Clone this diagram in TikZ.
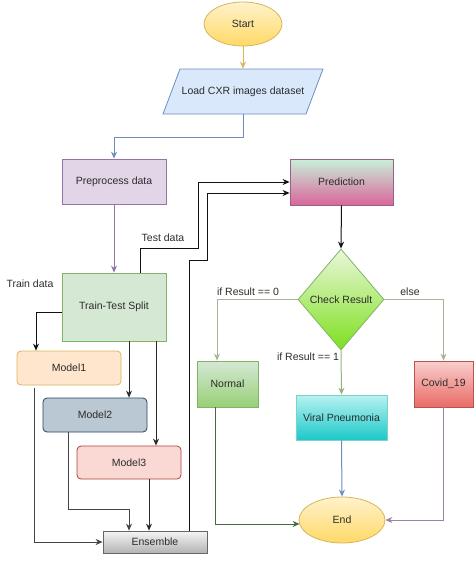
\documentclass[tikz,border=0pt]{standalone}
\usepackage{fontspec}
\setmainfont{Liberation Sans}
\usetikzlibrary{shapes.geometric,arrows.meta,calc}
\definecolor{txt}{HTML}{2B2B2B}
\definecolor{yelB}{HTML}{D6B656}
\definecolor{yelT}{HTML}{FFF2CC}
\definecolor{yelD}{HTML}{FFD966}
\definecolor{bluF}{HTML}{DAE8FC}
\definecolor{bluB}{HTML}{6C8EBF}
\definecolor{purF}{HTML}{E1D5E7}
\definecolor{purB}{HTML}{9673A6}
\definecolor{grnF}{HTML}{D5E8D4}
\definecolor{grnB}{HTML}{82B366}
\definecolor{grnD}{HTML}{97D077}
\definecolor{orgF}{HTML}{FFE6CC}
\definecolor{orgB}{HTML}{D6B656}
\definecolor{slaF}{HTML}{BAC8D3}
\definecolor{slaB}{HTML}{23445D}
\definecolor{rosF}{HTML}{FAD9D5}
\definecolor{rosB}{HTML}{AE4132}
\definecolor{gryT}{HTML}{F5F5F5}
\definecolor{gryD}{HTML}{B3B3B3}
\definecolor{gryB}{HTML}{666666}
\definecolor{preB}{HTML}{996185}
\definecolor{preT}{HTML}{C8F0DA}
\definecolor{preD}{HTML}{D9669A}
\definecolor{chkT}{HTML}{EAF7DC}
\definecolor{chkD}{HTML}{7EE01E}
\definecolor{cyaB}{HTML}{7FD0C8}
\definecolor{cyaT}{HTML}{B8F2F2}
\definecolor{cyaD}{HTML}{1CC8C8}
\definecolor{redB}{HTML}{B85450}
\definecolor{redT}{HTML}{F8CECC}
\definecolor{redD}{HTML}{EA6B66}
\definecolor{ink}{HTML}{111111}
\definecolor{ink2}{HTML}{2A2A2A}
\definecolor{ink3}{HTML}{444444}
\definecolor{sage}{HTML}{A8B39A}
\definecolor{sage2}{HTML}{93B383}
\definecolor{dgrn}{HTML}{3F6B3F}
\definecolor{lav}{HTML}{9A83A6}
\tikzset{
  box/.style={draw, inner sep=0pt, text=txt, font=\fontsize{10.5}{12}\selectfont, line width=0.8pt},
  lbl/.style={inner sep=1pt, text=txt, font=\fontsize{10.5}{12}\selectfont},
  arr/.style={line width=1pt, -{Stealth[length=7pt,width=6pt]}},
}
\begin{document}
\begin{tikzpicture}[x=1pt,y=-1pt]
\useasboundingbox (0,0) rectangle (474,571);
% nodes
\node[box, ellipse, minimum width=78pt, minimum height=44pt, draw=yelB, top color=yelT, bottom color=yelD] (start) at (243,24) {Start};
\fill[bluF] (180,69) -- (323,69) -- (306,114) -- (163,114) -- cycle;
\draw[bluB, line width=0.8pt] (180,69) -- (323,69) -- (306,114) -- (163,114) -- cycle;
\node[box, draw=none, minimum width=143pt, minimum height=45pt] (load) at (243,91.5) {Load CXR images dataset};
\node[box, minimum width=104pt, minimum height=45pt, draw=purB, fill=purF] (pre) at (114,181.5) {Preprocess data};
\node[box, minimum width=104pt, minimum height=68pt, draw=grnB, fill=grnF] (tts) at (114,307) {Train-Test Split};
\node[box, rounded corners=4pt, minimum width=104pt, minimum height=34pt, draw=orgB, fill=orgF] (m1) at (69,368) {Model1};
\node[box, rounded corners=4pt, minimum width=104pt, minimum height=34pt, draw=slaB, fill=slaF] (m2) at (95,415) {Model2};
\node[box, rounded corners=4pt, minimum width=104pt, minimum height=33pt, draw=rosB, fill=rosF] (m3) at (129,462.5) {Model3};
\node[box, minimum width=104pt, minimum height=22pt, draw=gryB, top color=gryT, bottom color=gryD] (ens) at (155,542) {Ensemble};
\node[box, minimum width=103pt, minimum height=46pt, draw=preB, top color=preT, bottom color=preD] (pred) at (341.5,182) {Prediction};
\node[box, diamond, minimum width=86pt, minimum height=101pt, draw=grnB, top color=chkT, bottom color=chkD] (check) at (341,299.5) {Check Result};
\node[box, minimum width=61pt, minimum height=46pt, draw=grnB, top color=grnF, bottom color=grnD] (normal) at (227.5,384) {Normal};
\node[box, minimum width=91pt, minimum height=45pt, draw=cyaB, top color=cyaT, bottom color=cyaD] (viral) at (341.5,417.5) {Viral Pneumonia};
\node[box, minimum width=59pt, minimum height=46pt, draw=redB, top color=redT, bottom color=redD] (covid) at (443.5,384) {Covid\_19};
\node[box, ellipse, minimum width=86pt, minimum height=46pt, draw=yelB, top color=yelT, bottom color=yelD] (end) at (342,520) {End};
% labels
\node[lbl] (ltrain) at (30,284) {Train data};
\node[lbl] (ltest) at (163,238) {Test data};
\node[lbl] (lr0) at (248,292) {if Result == 0};
\node[lbl] (lelse) at (410,292) {else};
\node[lbl] (lr1) at (308,357) {if Result == 1};
% connectors
\draw[arr, yelB] (start.south) -- (load.north);
\draw[arr, bluB] (load.south) -- ++(0,23) -| (pre.north);
\draw[arr, purB] (pre.south) -- (tts.north);
\draw[arr, ink] ($(tts.west)+(0,5)$) -| ($(m1.north)+(-33,0)$);
\draw[arr, ink2] ($(tts.south)+(15,0)$) -- ($(m2.north)+(34,0)$);
\draw[arr, ink2] ($(tts.south)+(42,0)$) -- ($(m3.north)+(27,0)$);
\draw[arr, ink] ($(tts.north)+(26,0)$) -- ++(0,-24) -- ++(58,0) |- (pred.west);
\draw[arr, ink] ($(ens.north)+(34,0)$) -- ++(0,-270) -- ++(18,0) |- ($(pred.west)+(0,11)$);
\draw[arr, ink3] ($(m1.south)+(-35,3)$) |- (ens.west);
\draw[arr, ink3] ($(m2.south)+(-27,0)$) -- ++(0,77) -| ($(ens.north)+(-26,0)$);
\draw[arr, ink2] ($(m3.south)+(20,0)$) -- ($(ens.north)+(-6,0)$);
\draw[arr, ink] (pred.south) -- (check.north);
\draw[arr, sage] (check.west) -| ($(normal.north)+(-10.5,0)$);
\draw[arr, sage] (check.east) -| (covid.north);
\draw[arr, sage2] (check.south) -- (viral.north);
\draw[arr, bluB] (viral.south) -- (end.north);
\draw[arr, dgrn] ($(normal.south)+(-12.5,0)$) |- ($(end.west)+(1,4)$);
\draw[arr, lav] (covid.south) |- (end.east);
\end{tikzpicture}
\end{document}
